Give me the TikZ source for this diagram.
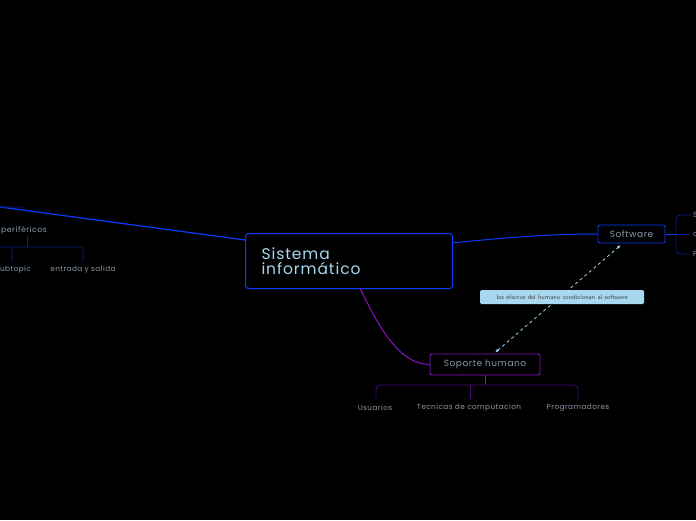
\documentclass[tikz,border=0pt]{standalone}
\usepackage{fontspec}
\setmainfont{Poppins}[LetterSpace=6]
\usetikzlibrary{arrows.meta}
\definecolor{bl}{HTML}{0A3CFF}
\definecolor{dbl}{HTML}{0A1E8C}
\definecolor{pu}{HTML}{8A12C8}
\definecolor{dpu}{HTML}{4A0A78}
\definecolor{txt}{HTML}{8A9AA8}
\definecolor{lb}{HTML}{A8D8F0}
\tikzset{
  main/.style={draw=bl,line width=1pt,rounded corners=3pt,fill=black,text=lb,font=\fontsize{15.5}{16}\selectfont,align=left,anchor=north west,inner xsep=16pt,inner ysep=0pt,minimum width=207pt,minimum height=55pt,text width=175pt},
  topic/.style={draw=#1,line width=0.9pt,rounded corners=2pt,fill=black,text=txt,font=\fontsize{9}{10}\selectfont,inner sep=0pt},
  sub/.style={text=txt,font=\fontsize{7.3}{8}\selectfont,inner sep=1pt},
}
\begin{document}
\begin{tikzpicture}[x=1pt,y=-1pt]
\fill[black] (0,0) rectangle (696,520);
\useasboundingbox (0,0) rectangle (696,520);
\clip (0,0) rectangle (696,520);
% left branch
\draw[bl,line width=1.2pt] (0,207) -- (245,240);
\draw[dbl,line width=0.6pt,rounded corners=3pt] (0,207) -- (25,207) -- (27,212);
\node[sub,font=\fontsize{7.8}{8}\selectfont,anchor=west] (per) at (0,230) {periféricos};
\draw[dbl,line width=0.6pt,rounded corners=3pt] (27,236) -- (27,247);
\draw[dbl,line width=0.6pt,rounded corners=3pt] (0,247) -- (12,247) -- (12,261);
\draw[dbl,line width=0.6pt,rounded corners=3pt] (10,247) -- (83,247) -- (83,261);
\node[sub,anchor=east] (st) at (32,270) {subtopic};
\node[sub] (es) at (83,270) {entrada y salida};
% central
\node[main] (c) at (245,233) {Sistema\\[-1pt]informático};
% software
\node[topic=bl,minimum width=67pt,minimum height=18pt] (sw) at (631.5,234) {Software};
\draw[bl,line width=1pt] (452,243) .. controls (520,236) and (560,234) .. (sw.west);
\draw[bl,line width=0.8pt] (sw.east) -- (676,234);
\draw[dbl,line width=0.8pt,rounded corners=4pt] (690,215) -- (676,215) -- (676,254) -- (690,254);
\draw[dbl,line width=0.8pt] (676,234) -- (690,234);
\node[sub,anchor=west] (s1) at (692,215) {S};
\node[sub,anchor=west] (s2) at (692,234) {a};
\node[sub,anchor=west] (s3) at (692,254) {P};
% soporte humano
\node[topic=pu,minimum width=110pt,minimum height=21pt] (sh) at (485,364.5) {Soporte humano};
\draw[pu,line width=1pt] (360,288) .. controls (380,330) and (400,364) .. (sh.west);
\draw[pu,line width=0.8pt] (sh.south) -- (485,385);
\draw[dpu,line width=0.8pt,rounded corners=4pt] (376,399) -- (376,385) -- (578,385) -- (578,399);
\draw[dpu,line width=0.8pt,rounded corners=4pt] (470,399) -- (470,385);
\node[sub] (u) at (375,408) {Usuarios};
\node[sub] (t) at (469,408) {Tecnicas de computacion};
\node[sub] (p) at (578,408) {Programadores};
% relationship
\draw[lb,line width=0.8pt,dashed,{Latex[length=4pt]}-{Latex[length=4pt]}] (sh.north) ++(10,-1) coordinate (a1) (a1) -- (621,245) coordinate (a2);
\node[fill=lb,rounded corners=1.5pt,text=black!75,font=\sffamily\fontsize{6.3}{7}\selectfont,minimum width=164pt,minimum height=14pt,inner sep=0pt] (lab) at (562,297) {los efectos del humano condicionan al software};
\end{tikzpicture}
\end{document}
